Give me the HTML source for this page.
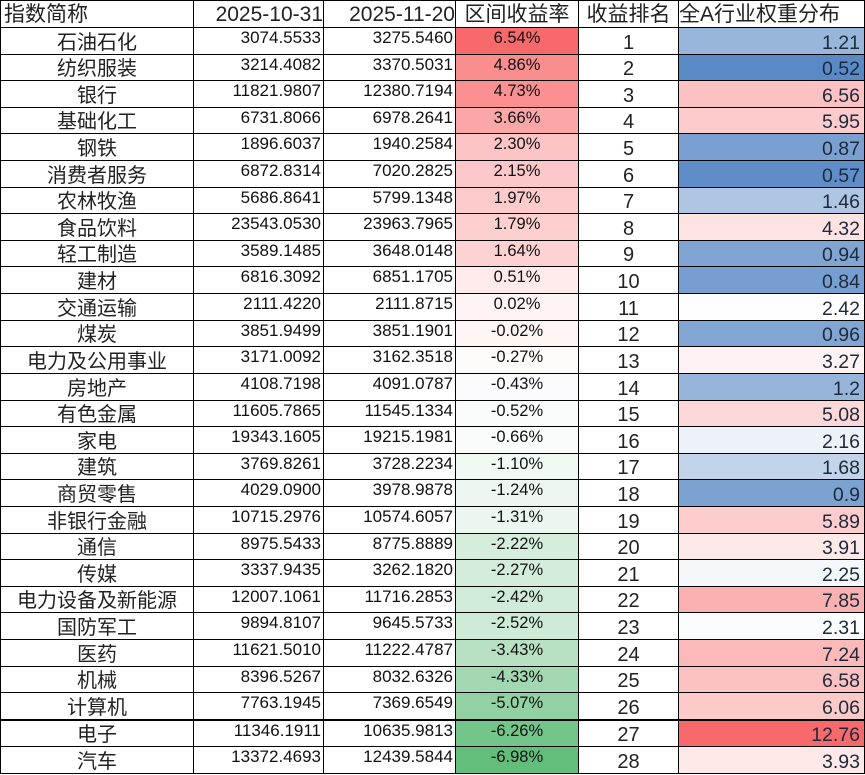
<!DOCTYPE html>
<html><head><meta charset="utf-8">
<style>
html,body{margin:0;padding:0;background:#fff;}
table{border-collapse:collapse;table-layout:fixed;width:864px;position:absolute;left:0;top:0;}
td{border:1.5px solid #000;padding:0;overflow:hidden;white-space:nowrap;height:25.62px;}
tr.h td{height:26px;font-family:"Liberation Sans","Noto Sans CJK SC",sans-serif;font-size:21px;line-height:25px;vertical-align:middle;color:#222;}
td.n{font-family:"Liberation Sans","Noto Sans CJK SC",sans-serif;font-size:20px;text-align:center;vertical-align:bottom;line-height:22px;color:#222;}
td.v{font-family:"Liberation Sans",sans-serif;font-size:17px;text-align:right;vertical-align:top;line-height:20px;padding-right:2px;color:#111;}
td.p{font-family:"Liberation Sans",sans-serif;font-size:16.5px;text-align:center;vertical-align:top;line-height:20px;color:#111;}
td.r{font-family:"Liberation Sans",sans-serif;font-size:20px;text-align:center;vertical-align:bottom;line-height:22px;color:#222;}
td.w{font-family:"Liberation Sans",sans-serif;font-size:19.5px;text-align:right;vertical-align:bottom;line-height:22px;padding-right:4px;color:#1e2a3a;}
tr.thick td{border-top:2.5px solid #000;}
</style></head><body>
<table>
<colgroup><col style="width:193px"><col style="width:130px"><col style="width:132px"><col style="width:123px"><col style="width:100px"><col style="width:186px"></colgroup>
<tr class="h"><td style="text-align:left;padding-left:3px">指数简称</td><td style="text-align:right">2025-10-31</td><td style="text-align:right">2025-11-20</td><td style="text-align:center">区间收益率</td><td style="text-align:center">收益排名</td><td style="text-align:left">全A行业权重分布</td></tr>
<tr><td class="n">石油石化</td><td class="v">3074.5533</td><td class="v">3275.5460</td><td class="p" style="background:rgb(248,105,107)">6.54%</td><td class="r">1</td><td class="w" style="background:rgb(152,182,219)">1.21</td></tr>
<tr><td class="n">纺织服装</td><td class="v">3214.4082</td><td class="v">3370.5031</td><td class="p" style="background:rgb(250,141,142)">4.86%</td><td class="r">2</td><td class="w" style="background:rgb(90,138,198)">0.52</td></tr>
<tr><td class="n">银行</td><td class="v">11821.9807</td><td class="v">12380.7194</td><td class="p" style="background:rgb(250,144,145)">4.73%</td><td class="r">3</td><td class="w" style="background:rgb(252,194,195)">6.56</td></tr>
<tr><td class="n">基础化工</td><td class="v">6731.8066</td><td class="v">6978.2641</td><td class="p" style="background:rgb(251,167,168)">3.66%</td><td class="r">4</td><td class="w" style="background:rgb(253,203,204)">5.95</td></tr>
<tr><td class="n">钢铁</td><td class="v">1896.6037</td><td class="v">1940.2584</td><td class="p" style="background:rgb(252,196,196)">2.30%</td><td class="r">5</td><td class="w" style="background:rgb(121,160,209)">0.87</td></tr>
<tr><td class="n">消费者服务</td><td class="v">6872.8314</td><td class="v">7020.2825</td><td class="p" style="background:rgb(252,199,200)">2.15%</td><td class="r">6</td><td class="w" style="background:rgb(94,141,200)">0.57</td></tr>
<tr><td class="n">农林牧渔</td><td class="v">5686.8641</td><td class="v">5799.1348</td><td class="p" style="background:rgb(253,203,203)">1.97%</td><td class="r">7</td><td class="w" style="background:rgb(174,198,227)">1.46</td></tr>
<tr><td class="n">食品饮料</td><td class="v">23543.0530</td><td class="v">23963.7965</td><td class="p" style="background:rgb(253,207,207)">1.79%</td><td class="r">8</td><td class="w" style="background:rgb(254,227,227)">4.32</td></tr>
<tr><td class="n">轻工制造</td><td class="v">3589.1485</td><td class="v">3648.0148</td><td class="p" style="background:rgb(253,210,210)">1.64%</td><td class="r">9</td><td class="w" style="background:rgb(128,165,211)">0.94</td></tr>
<tr><td class="n">建材</td><td class="v">6816.3092</td><td class="v">6851.1705</td><td class="p" style="background:rgb(254,234,234)">0.51%</td><td class="r">10</td><td class="w" style="background:rgb(119,158,208)">0.84</td></tr>
<tr><td class="n">交通运输</td><td class="v">2111.4220</td><td class="v">2111.8715</td><td class="p" style="background:rgb(255,244,245)">0.02%</td><td class="r">11</td><td class="w" style="background:rgb(255,254,254)">2.42</td></tr>
<tr><td class="n">煤炭</td><td class="v">3851.9499</td><td class="v">3851.1901</td><td class="p" style="background:rgb(255,245,245)">-0.02%</td><td class="r">12</td><td class="w" style="background:rgb(129,166,212)">0.96</td></tr>
<tr><td class="n">电力及公用事业</td><td class="v">3171.0092</td><td class="v">3162.3518</td><td class="p" style="background:rgb(255,251,251)">-0.27%</td><td class="r">13</td><td class="w" style="background:rgb(254,242,242)">3.27</td></tr>
<tr><td class="n">房地产</td><td class="v">4108.7198</td><td class="v">4091.0787</td><td class="p" style="background:rgb(250,250,255)">-0.43%</td><td class="r">14</td><td class="w" style="background:rgb(151,181,219)">1.2</td></tr>
<tr><td class="n">有色金属</td><td class="v">11605.7865</td><td class="v">11545.1334</td><td class="p" style="background:rgb(250,252,252)">-0.52%</td><td class="r">15</td><td class="w" style="background:rgb(253,216,216)">5.08</td></tr>
<tr><td class="n">家电</td><td class="v">19343.1605</td><td class="v">19215.1981</td><td class="p" style="background:rgb(249,252,250)">-0.66%</td><td class="r">16</td><td class="w" style="background:rgb(237,242,249)">2.16</td></tr>
<tr><td class="n">建筑</td><td class="v">3769.8261</td><td class="v">3728.2234</td><td class="p" style="background:rgb(240,249,242)">-1.10%</td><td class="r">17</td><td class="w" style="background:rgb(194,212,234)">1.68</td></tr>
<tr><td class="n">商贸零售</td><td class="v">4029.0900</td><td class="v">3978.9878</td><td class="p" style="background:rgb(237,247,239)">-1.24%</td><td class="r">18</td><td class="w" style="background:rgb(124,162,210)">0.9</td></tr>
<tr><td class="n">非银行金融</td><td class="v">10715.2976</td><td class="v">10574.6057</td><td class="p" style="background:rgb(235,247,238)">-1.31%</td><td class="r">19</td><td class="w" style="background:rgb(253,204,204)">5.89</td></tr>
<tr><td class="n">通信</td><td class="v">8975.5433</td><td class="v">8775.8889</td><td class="p" style="background:rgb(213,238,220)">-2.22%</td><td class="r">20</td><td class="w" style="background:rgb(254,233,233)">3.91</td></tr>
<tr><td class="n">传媒</td><td class="v">3337.9435</td><td class="v">3262.1820</td><td class="p" style="background:rgb(212,237,219)">-2.27%</td><td class="r">21</td><td class="w" style="background:rgb(245,248,251)">2.25</td></tr>
<tr><td class="n">电力设备及新能源</td><td class="v">12007.1061</td><td class="v">11716.2853</td><td class="p" style="background:rgb(208,236,216)">-2.42%</td><td class="r">22</td><td class="w" style="background:rgb(251,176,177)">7.85</td></tr>
<tr><td class="n">国防军工</td><td class="v">9894.8107</td><td class="v">9645.5733</td><td class="p" style="background:rgb(206,235,213)">-2.52%</td><td class="r">23</td><td class="w" style="background:rgb(250,252,253)">2.31</td></tr>
<tr><td class="n">医药</td><td class="v">11621.5010</td><td class="v">11222.4787</td><td class="p" style="background:rgb(184,225,195)">-3.43%</td><td class="r">24</td><td class="w" style="background:rgb(252,185,186)">7.24</td></tr>
<tr><td class="n">机械</td><td class="v">8396.5267</td><td class="v">8032.6326</td><td class="p" style="background:rgb(162,216,177)">-4.33%</td><td class="r">25</td><td class="w" style="background:rgb(252,194,194)">6.58</td></tr>
<tr><td class="n">计算机</td><td class="v">7763.1945</td><td class="v">7369.6549</td><td class="p" style="background:rgb(145,209,162)">-5.07%</td><td class="r">26</td><td class="w" style="background:rgb(253,202,202)">6.06</td></tr>
<tr class="thick"><td class="n">电子</td><td class="v">11346.1911</td><td class="v">10635.9813</td><td class="p" style="background:rgb(116,197,138)">-6.26%</td><td class="r">27</td><td class="w" style="background:rgb(248,105,107)">12.76</td></tr>
<tr><td class="n">汽车</td><td class="v">13372.4693</td><td class="v">12439.5844</td><td class="p" style="background:rgb(99,190,123)">-6.98%</td><td class="r">28</td><td class="w" style="background:rgb(254,232,232)">3.93</td></tr>
</table>
</body></html>
